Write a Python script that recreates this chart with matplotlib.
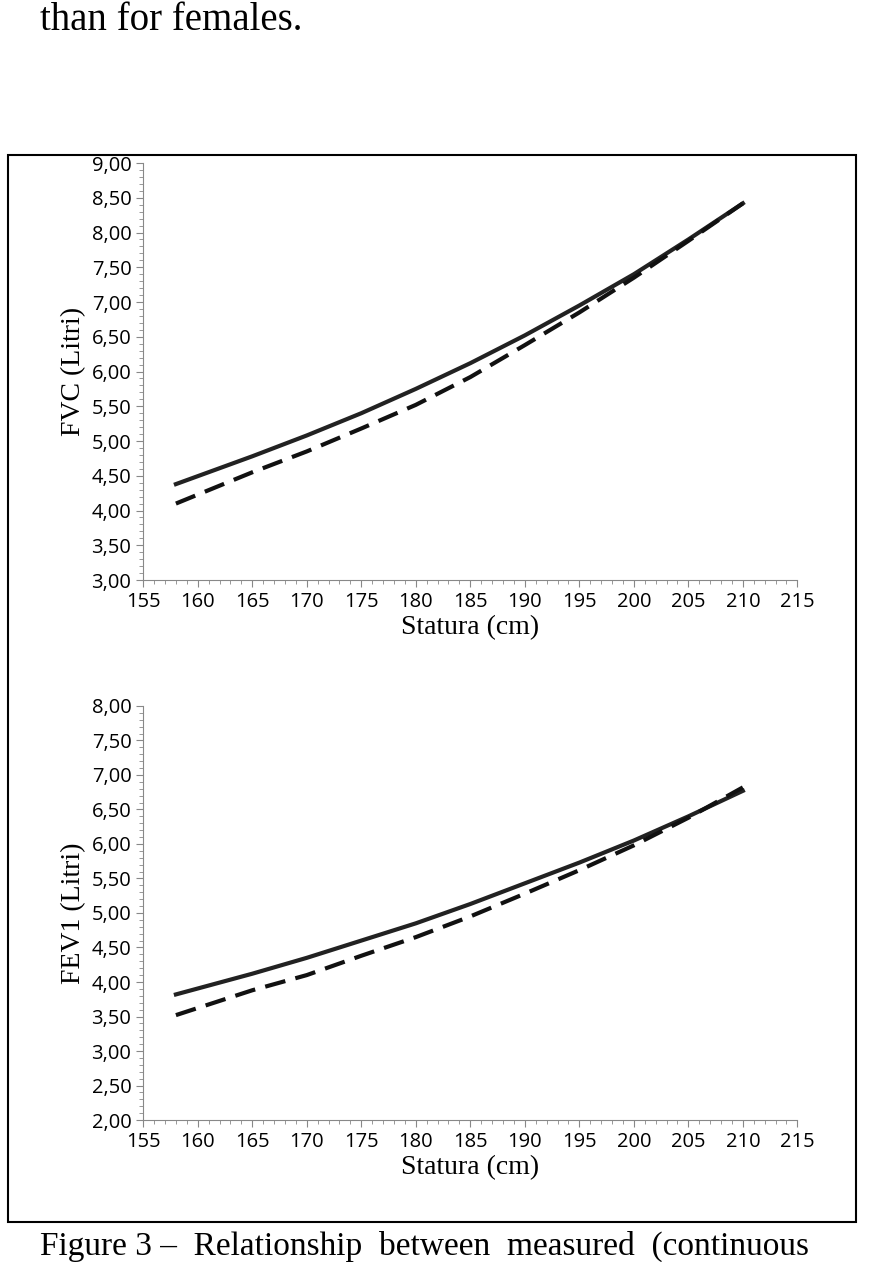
import matplotlib
matplotlib.use("Agg")
import matplotlib.pyplot as plt
from matplotlib.ticker import MultipleLocator, FuncFormatter
from matplotlib.patches import Rectangle

stature = [158, 165, 170, 175, 180, 185, 190, 195, 200, 205, 210]
fvc_measured = [4.38, 4.78, 5.08, 5.40, 5.75, 6.12, 6.52, 6.95, 7.40, 7.90, 8.42]
fvc_predicted = [4.10, 4.55, 4.85, 5.18, 5.52, 5.92, 6.38, 6.85, 7.35, 7.88, 8.42]
fev_measured = [3.82, 4.12, 4.35, 4.60, 4.85, 5.13, 5.43, 5.73, 6.05, 6.40, 6.77]
fev_predicted = [3.52, 3.88, 4.10, 4.38, 4.65, 4.95, 5.28, 5.62, 5.98, 6.38, 6.82]

fig = plt.figure(figsize=(8.84, 12.62), dpi=100)
serif = "Liberation Serif"
tickfont = "Open Sans"

fig.text(0.045, 0.984, "than for females.", fontsize=28, family=serif, va="center")
fig.text(0.045, 0.012, "Figure 3 \u2013  Relationship  between  measured  (continuous",
         fontsize=24, family=serif, va="center")
fig.patches.append(Rectangle((8/884, 1-1222/1262), 848/884, 1067/1262, transform=fig.transFigure,
                             fill=False, lw=1.5, ec="black"))

def setup(ax, ylo, yhi, ylabel):
    ax.set_xlim(155, 215)
    ax.set_ylim(ylo, yhi)
    ax.xaxis.set_major_locator(MultipleLocator(5))
    ax.xaxis.set_minor_locator(MultipleLocator(1))
    ax.yaxis.set_major_locator(MultipleLocator(0.5))
    ax.yaxis.set_minor_locator(MultipleLocator(0.1))
    ax.yaxis.set_major_formatter(FuncFormatter(lambda v, p: f"{v:.2f}".replace(".", ",")))
    for s in ["top", "right"]:
        ax.spines[s].set_visible(False)
    for s in ["left", "bottom"]:
        ax.spines[s].set_color("#888888")
    ax.tick_params(which="both", direction="out", color="#888888")
    ax.tick_params(which="major", length=5, labelsize=14.5)
    ax.tick_params(which="minor", length=3)
    for l in ax.get_xticklabels() + ax.get_yticklabels():
        l.set_family(tickfont)
    ax.set_xlabel("Statura (cm)", fontsize=20, family=serif, labelpad=2)
    ax.set_ylabel(ylabel, fontsize=20, family=serif, labelpad=4)

ax1 = fig.add_axes([0.162, 0.5404, 0.740, 0.3304])
ax1.plot(stature, fvc_measured, color="#222222", lw=3)
ax1.plot(stature, fvc_predicted, color="#111111", lw=3, ls=(0, (5, 2.5)))
setup(ax1, 3, 9, "FVC (Litri)")

ax2 = fig.add_axes([0.162, 0.1125, 0.740, 0.3281])
ax2.plot(stature, fev_measured, color="#222222", lw=3)
ax2.plot(stature, fev_predicted, color="#111111", lw=3, ls=(0, (5, 2.5)))
setup(ax2, 2, 8, "FEV1 (Litri)")

fig.savefig("out.png", dpi=100)
